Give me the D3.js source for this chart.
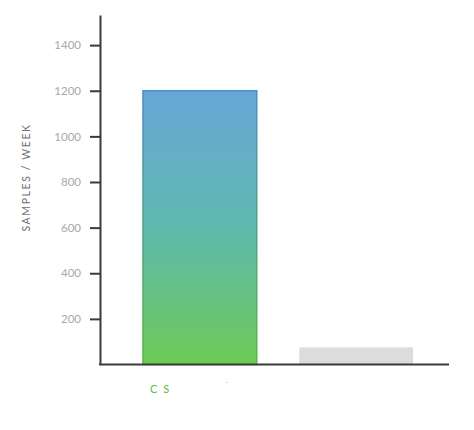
<html>
<head>
<meta charset="utf-8">
<title>Samples per week</title>
<script src="https://d3js.org/d3.v7.min.js"></script>
<style>
  body { margin: 0; background: #fff; }
  text { font-family: Lato, "Open Sans", sans-serif; }
</style>
</head>
<body>
<svg width="474" height="430"></svg>
<script>
var categories = ["C S", "other"];
var labels = ["C S", ""];
var values = [1200, 75];
var yTicks = [200, 400, 600, 800, 1000, 1200, 1400];
var yMax = 1532;

var svg = d3.select("svg"),
    margin = {top: 15, right: 18, bottom: 66, left: 100},
    width = +svg.attr("width") - margin.left - margin.right,
    height = +svg.attr("height") - margin.top - margin.bottom,
    g = svg.append("g").attr("transform", `translate(${margin.left},${margin.top})`);

var xScale = d3.scaleBand().domain(categories).range([0, width]).paddingInner(0.272).paddingOuter(0.275),
    yScale = d3.scaleLinear().domain([0, yMax]).range([height + 0.5, 0]);

var defs = svg.append("defs");
var fillGrad = defs.append("linearGradient").attr("id", "barFill")
    .attr("x1", 0).attr("y1", 0).attr("x2", 0).attr("y2", 1);
fillGrad.append("stop").attr("offset", "0%").attr("stop-color", "#68a6d8");
fillGrad.append("stop").attr("offset", "50%").attr("stop-color", "#5fb9ae");
fillGrad.append("stop").attr("offset", "100%").attr("stop-color", "#6dca55");
var strokeGrad = defs.append("linearGradient").attr("id", "barStroke")
    .attr("x1", 0).attr("y1", 0).attr("x2", 0).attr("y2", 1);
strokeGrad.append("stop").attr("offset", "0%").attr("stop-color", "#4a8fc6");
strokeGrad.append("stop").attr("offset", "100%").attr("stop-color", "#55b844");

// bars
g.append("g").selectAll("rect")
    .data(values)
    .enter()
    .append("rect")
    .attr("x", (d, i) => xScale(categories[i]))
    .attr("y", d => yScale(d))
    .attr("width", xScale.bandwidth())
    .attr("height", d => yScale(0) - yScale(d))
    .attr("fill", (d, i) => i === 0 ? "url(#barFill)" : "#dcdcdc")
    .attr("stroke", (d, i) => i === 0 ? "url(#barStroke)" : "none")
    .attr("stroke-width", 1.5);

// y axis
var yAxis = g.append("g")
    .call(d3.axisLeft(yScale).tickValues(yTicks).tickFormat(d3.format("d"))
        .tickSize(10).tickPadding(9).tickSizeOuter(0));
yAxis.select(".domain").attr("stroke", "#3a3a3a").attr("stroke-width", 2);
yAxis.selectAll(".tick line").attr("stroke", "#3a3a3a").attr("stroke-width", 2);
yAxis.selectAll(".tick text").attr("fill", "#a8a8a8").style("font-size", "11.5px")
    .style("font-family", "Lato, sans-serif");

// x axis line
g.append("line")
    .attr("x1", -1).attr("x2", width - 7)
    .attr("y1", yScale(0)).attr("y2", yScale(0))
    .attr("stroke", "#3a3a3a").attr("stroke-width", 2);

// category labels
g.append("g").selectAll("text")
    .data(labels)
    .enter()
    .append("text")
    .text(d => d)
    .attr("x", (d, i) => xScale(categories[i]) + 7)
    .attr("y", yScale(0) + 28)
    .attr("fill", "#5dbb46")
    .style("font-size", "11px")
    .style("letter-spacing", "1.5px");

g.append("text")
    .text(".")
    .attr("x", xScale(categories[0]) + xScale.bandwidth() * 0.73)
    .attr("y", yScale(0) + 18)
    .attr("fill", "#9a9a9a")
    .style("font-size", "8px");

// y axis title
g.append("text")
    .text("SAMPLES / WEEK")
    .attr("transform", `translate(-70,${yScale(820)}) rotate(-90)`)
    .attr("text-anchor", "middle")
    .attr("fill", "#707070")
    .style("font-size", "10.5px")
    .style("letter-spacing", "1.6px");
</script>
</body>
</html>
